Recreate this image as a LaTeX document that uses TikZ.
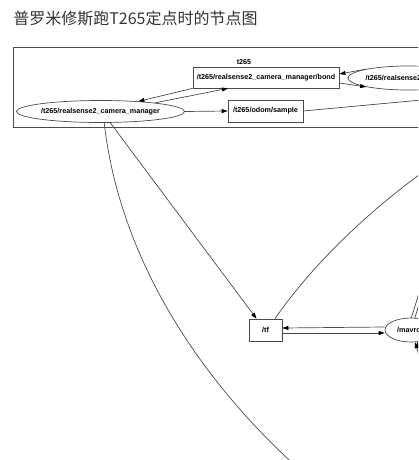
\documentclass[tikz,border=0pt]{standalone}
\usepackage{fontspec}
\setmainfont{Liberation Sans}
\newfontfamily\cjkfont{Noto Sans CJK SC}
\usetikzlibrary{arrows.meta, shapes.geometric}
\definecolor{cline}{HTML}{4A4A4A}
\definecolor{ctitle}{HTML}{333333}
\tikzset{
  every picture/.style={line width=0.7pt},
  nodefont/.style={font=\fontsize{7.2}{8}\selectfont\bfseries},
  box/.style={nodefont, draw=cline, rectangle, inner sep=0pt, minimum height=21pt},
  oval/.style={nodefont, draw=cline, ellipse, inner sep=0pt, minimum height=22pt},
  cluster/.style={draw=cline, rectangle, line width=0.8pt},
  arrow/.style={-{Triangle[length=6pt,width=4pt,color=black]}, draw=cline},
  link/.style={draw=cline},
  title/.style={font=\cjkfont\fontsize{16}{18}\selectfont, text=ctitle, anchor=west, inner sep=0pt},
}

\begin{document}
\begin{tikzpicture}[x=1pt, y=-1pt]
  \useasboundingbox (0,0) rectangle (418,460);
  \fill[white] (0,0) rectangle (418,460);
  \clip (0,0) rectangle (418,460);
  % heading
  \node[title] (head) at (13,18) {普罗米修斯跑T265定点时的节点图};
  % cluster t265
  \node[cluster, minimum width=470pt, minimum height=80pt] (t265) at (248,87) {};
  \node[nodefont] (t265lbl) at (244,62) {t265};
  \node[box, minimum width=146pt] (bond) at (266,77.5) {/t265/realsense2\_camera\_manager/bond};
  \node[oval, minimum width=120pt, minimum height=24pt] (cam) at (408,78) {/t265/realsense2\_camera};
  \node[oval, minimum width=165pt] (mgr) at (100.5,111.5) {/t265/realsense2\_camera\_manager};
  \node[box, minimum width=75pt, minimum height=22pt] (odom) at (265.5,111) {/t265/odom/sample};
  % tf and mavros
  \node[box, minimum width=33pt, minimum height=22pt] (tf) at (265.5,330) {/tf};
  \node[oval, minimum width=52pt, minimum height=24pt] (mavros) at (411,330) {/mavros};
  % ends that leave the picture
  \coordinate (odomout) at (470,95.5);
  \coordinate (tfout) at (440,160);
  \coordinate (mgrout) at (300,470);
  \coordinate (mavup1) at (423,280);
  \coordinate (mavup2) at (426,280);
  \coordinate (mavdown1) at (428,385);
  \coordinate (mavdown2) at (434,385);
  % edges inside t265
  \draw[arrow] (cam.168) -- ([yshift=3.5pt]bond.east);
  \draw[arrow] ([yshift=-5.5pt]bond.east) -- (cam.192);
  \draw[arrow] (bond.south west) -- (mgr.15);
  \draw[arrow] (mgr.9) -- ([xshift=-38pt]bond.south);
  \draw[arrow] (mgr.east) -- (odom.west);
  \draw[link] (odom.east) -- (odomout);
  % edges down to tf and beyond
  \draw[arrow] (mgr.-49) -- ([xshift=-9pt]tf.north);
  \draw[link] (mgr.-72) .. controls (120,260) and (200,380) .. (mgrout);
  \draw[link] ([xshift=9.5pt]tf.north) .. controls (305,275) and (360,215) .. (tfout);
  \draw[arrow] ([yshift=3pt]mavros.west) -- ([yshift=2pt]tf.east);
  \draw[arrow] ([yshift=-3pt]tf.east) -- ([yshift=-3pt]mavros.west);
  \draw[link] (mavros.88) -- (mavup1);
  \draw[link] (mavros.72) -- (mavup2);
  \draw[arrow] (mavdown1) -- (mavros.-72);
  \draw[arrow] (mavdown2) -- (mavros.-64);
\end{tikzpicture}
\end{document}
